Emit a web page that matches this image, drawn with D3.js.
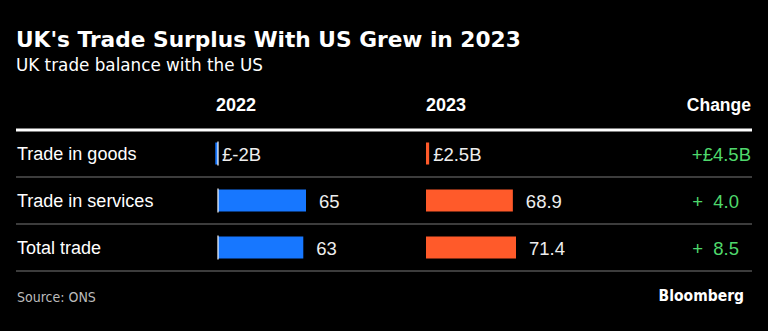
<!DOCTYPE html>
<html>
<head>
<meta charset="utf-8">
<script src="https://cdn.jsdelivr.net/npm/d3@7"></script>
<style>
  body { margin: 0; background: #000; }
  svg { display: block; }
</style>
</head>
<body>
<div id="chart"></div>
<script>
// data (GBP billions)
var categories = ["Trade in goods", "Trade in services", "Total trade"]
var years = ["2022", "2023"]
var values2022 = [-2, 65, 63]
var values2023 = [2.5, 68.9, 71.4]
var labels2022 = ["£-2B", "65", "63"]
var labels2023 = ["£2.5B", "68.9", "71.4"]
var changeLabels = ["+£4.5B", "+  4.0", "+  8.5"]

var width = 768, height = 331
var blue = "#1777ff", orange = "#ff5a2a", green = "#4fd86c"

var svg = d3.select("#chart").append("svg")
  .attr("width", width)
  .attr("height", height)

svg.append("rect").attr("width", width).attr("height", height).attr("fill", "#000")

// title + subtitle
svg.append("text")
  .attr("x", 16).attr("y", 47)
  .attr("fill", "#fff")
  .style("font-family", "DejaVu Sans")
  .style("font-weight", "bold")
  .style("font-size", "21.7px")
  .text("UK's Trade Surplus With US Grew in 2023")

svg.append("text")
  .attr("x", 16).attr("y", 71)
  .attr("fill", "#fff")
  .style("font-family", "DejaVu Sans")
  .style("font-size", "16.8px")
  .text("UK trade balance with the US")

// rows
var y = d3.scaleBand().domain(categories).range([130, 271])

// each column scaled on its own
var x2022 = d3.scaleLinear().domain([0, d3.max(values2022)]).range([218, 306])
var x2023 = d3.scaleLinear().domain([0, d3.max(values2023)]).range([426, 516])

// column headers
var headFont = "'Liberation Sans', Arial, sans-serif"
svg.selectAll(".head").data(years).enter().append("text")
  .attr("x", function(d, i) { return i == 0 ? 216 : 426 })
  .attr("y", 111)
  .attr("fill", "#fff")
  .style("font-family", headFont)
  .style("font-weight", "bold")
  .style("font-size", "18px")
  .text(function(d) { return d })

svg.append("text")
  .attr("x", 751).attr("y", 111)
  .attr("text-anchor", "end")
  .attr("fill", "#fff")
  .style("font-family", headFont)
  .style("font-weight", "bold")
  .style("font-size", "17.5px")
  .text("Change")

// header rule
svg.append("line")
  .attr("x1", 16).attr("x2", 752)
  .attr("y1", 130).attr("y2", 130)
  .attr("stroke", "#fff").attr("stroke-width", 3)

// row separators
svg.selectAll(".sep").data(categories).enter().append("line")
  .attr("x1", 16).attr("x2", 752)
  .attr("y1", function(d) { return y(d) + y.bandwidth() })
  .attr("y2", function(d) { return y(d) + y.bandwidth() })
  .attr("stroke", "#3c3c3c").attr("stroke-width", 2)

// row names
svg.selectAll(".cat").data(categories).enter().append("text")
  .attr("x", 17)
  .attr("y", function(d) { return y(d) + y.bandwidth() / 2 + 6 })
  .attr("fill", "#fff")
  .style("font-family", headFont)
  .style("font-size", "18px")
  .text(function(d) { return d })

var barH = 22

function drawColumn(vals, labels, xs, color) {
  svg.selectAll(null).data(vals).enter().append("rect")
    .attr("x", function(d) { return Math.min(xs(d), xs(0)) })
    .attr("y", function(d, i) { return y(categories[i]) + y.bandwidth() / 2 - barH / 2 })
    .attr("width", function(d) { return Math.max(2, Math.abs(xs(d) - xs(0))) })
    .attr("height", barH)
    .attr("fill", color)

  svg.selectAll(null).data(vals).enter().append("text")
    .attr("x", function(d, i) { return xs(Math.max(d, 0)) + (i == 0 ? 4 : 13) })
    .attr("y", function(d, i) { return y(categories[i]) + y.bandwidth() / 2 + 7 })
    .attr("fill", "#eee")
    .style("font-family", headFont)
    .style("font-size", "18.5px")
    .text(function(d, i) { return labels[i] })
}

drawColumn(values2022, labels2022, x2022, blue)
drawColumn(values2023, labels2023, x2023, orange)

// zero line in 2022 column
svg.selectAll(".zero").data(categories).enter().append("line")
  .attr("x1", x2022(0)).attr("x2", x2022(0))
  .attr("y1", function(d) { return y(d) + y.bandwidth() / 2 - barH / 2 - 1 })
  .attr("y2", function(d) { return y(d) + y.bandwidth() / 2 + barH / 2 + 1 })
  .attr("stroke", "#fff").attr("stroke-width", 1.2)

// change column
svg.selectAll(".chg").data(changeLabels).enter().append("text")
  .attr("x", function(d) { return d.slice(-1) == "B" ? 751 : 739 })
  .attr("y", function(d, i) { return y(categories[i]) + y.bandwidth() / 2 + 7 })
  .attr("text-anchor", "end")
  .attr("fill", green)
  .style("white-space", "pre")
  .style("font-family", headFont)
  .style("font-size", "18.5px")
  .text(function(d) { return d })

// footer
svg.append("text")
  .attr("x", 17).attr("y", 302)
  .attr("fill", "#bbb")
  .style("font-family", "'DejaVu Sans Condensed', 'DejaVu Sans'")
  .style("font-stretch", "condensed")
  .style("font-size", "14px")
  .text("Source: ONS")

svg.append("text")
  .attr("x", 744).attr("y", 301)
  .attr("text-anchor", "end")
  .attr("fill", "#fff")
  .style("font-family", "'DejaVu Sans Condensed', 'DejaVu Sans'")
  .style("font-stretch", "condensed")
  .style("font-weight", "bold")
  .style("font-size", "15.5px")
  .text("Bloomberg")
</script>
</body>
</html>
